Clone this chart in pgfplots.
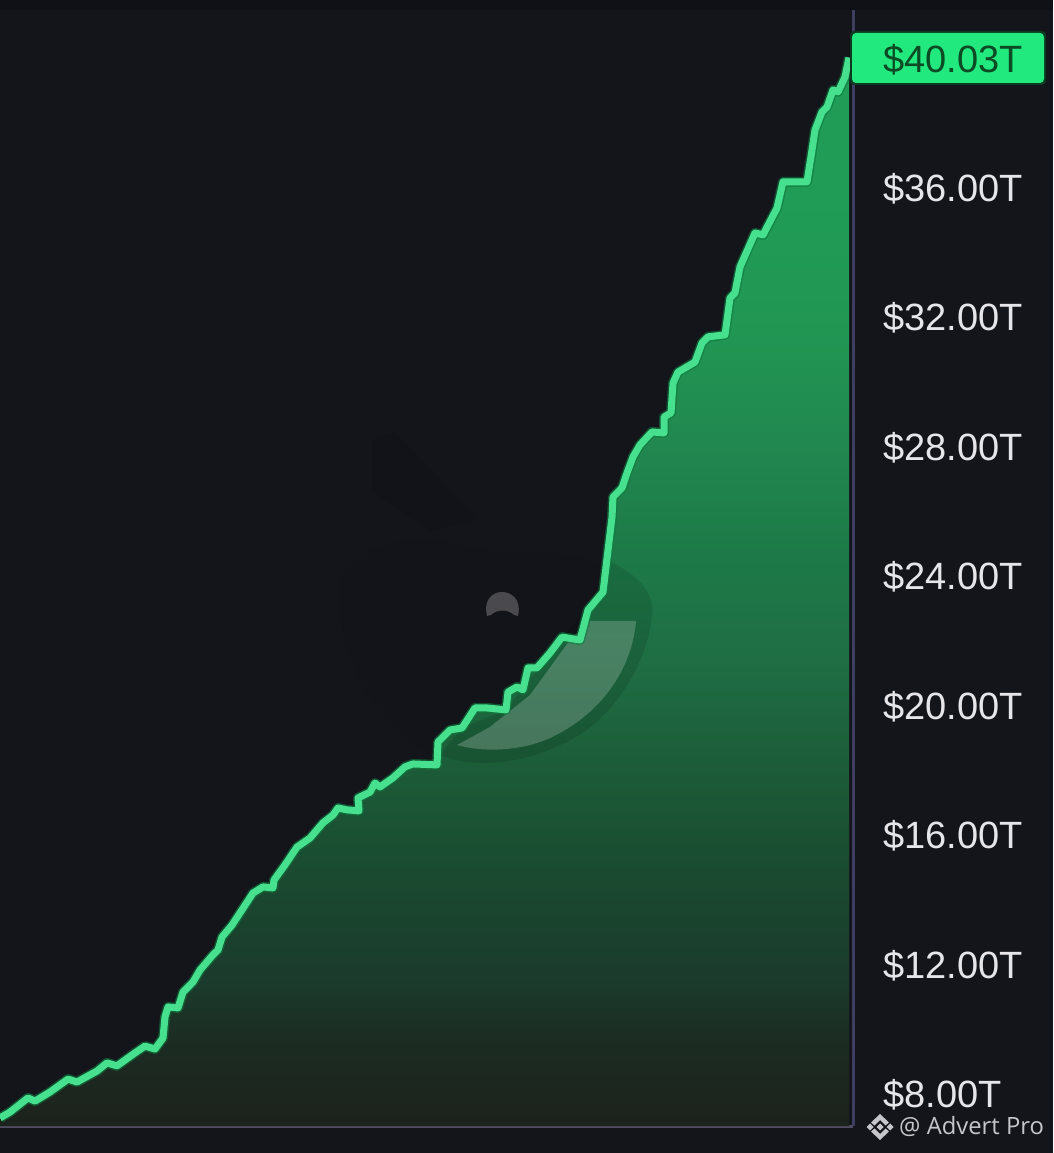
\documentclass[border=0pt]{standalone}
\usepackage{fontspec}
\setmainfont{Liberation Sans}
\newfontfamily\wmfont{Open Sans}
\usepackage{pgfplots}
\usepackage{pgfplotstable}
\pgfplotsset{compat=1.18}

\definecolor{bg}{HTML}{14151B}
\definecolor{topband}{HTML}{101117}
\definecolor{spine}{HTML}{3E3F60}
\definecolor{floorline}{HTML}{4E4B60}
\definecolor{curve}{HTML}{47E08E}
\definecolor{halo}{HTML}{0D7A3E}
\definecolor{tagfill}{HTML}{22E97E}
\definecolor{tagedge}{HTML}{0B3A20}
\definecolor{tagtext}{HTML}{0A4A24}
\definecolor{ticktext}{HTML}{E6E6EA}
\definecolor{markgrey}{HTML}{C6C6CA}
\definecolor{dotgrey}{HTML}{4A4A4E}
\definecolor{fa}{HTML}{1C221C}
\definecolor{fb}{HTML}{1C2C22}
\definecolor{fc}{HTML}{1B3A2C}
\definecolor{fd}{HTML}{1A4A30}
\definecolor{fe}{HTML}{1C5C38}
\definecolor{ff}{HTML}{1F6E44}
\definecolor{fg}{HTML}{1D7A48}
\definecolor{fh}{HTML}{21884F}
\definecolor{fi}{HTML}{219653}
\definecolor{fj}{HTML}{209C56}

% x is the horizontal position (no dates on the chart), y is trillions of dollars
\pgfplotstableread{
x v
0 7.26
10 7.44
28 7.88
35 7.78
50 8.06
68 8.46
77 8.37
97 8.71
107 8.96
117 8.87
135 9.27
145 9.48
155 9.39
163 9.73
165 10.38
168 10.69
178 10.66
183 11.15
193 11.46
200 11.83
213 12.30
218 12.45
222 12.85
232 13.22
242 13.69
253 14.21
263 14.40
273 14.37
274 14.61
285 15.08
297 15.63
310 15.91
323 16.38
333 16.62
338 16.84
347 16.78
359 16.75
358 17.15
370 17.33
375 17.61
380 17.49
393 17.77
405 18.11
413 18.20
437 18.17
438 18.88
450 19.25
462 19.31
475 19.93
487 19.93
506 19.87
508 20.42
517 20.58
523 20.49
528 21.17
537 21.17
550 21.63
562 22.12
580 22.03
588 22.96
603 23.51
612 25.83
613 26.45
622 26.73
627 27.19
633 27.69
640 28.06
652 28.46
664 28.43
664 28.92
671 29.05
673 29.97
678 30.31
695 30.62
702 31.21
708 31.40
725 31.46
730 32.60
735 32.76
740 33.56
755 34.61
763 34.55
777 35.38
783 36.19
807 36.19
812 37.17
815 37.79
822 38.35
827 38.50
833 39.03
838 38.97
845 39.43
849 40.03
}\curvedata

\pgfdeclareverticalshading{areafill}{100bp}{
  color(0bp)=(fa);
  color(25bp)=(fa);
  color(29bp)=(fb);
  color(31.6bp)=(fc);
  color(36.7bp)=(fd);
  color(41.8bp)=(fe);
  color(46.8bp)=(ff);
  color(51.9bp)=(fg);
  color(57bp)=(fh);
  color(62.1bp)=(fi);
  color(68.4bp)=(fj);
  color(100bp)=(fj)}

\pgfplotsset{
  samebox/.style={
    at={(0pt,27pt)},anchor=south west,
    scale only axis,width=853pt,height=1116pt,
    xmin=0,xmax=853,ymin=7.011,ymax=41.5,
  },
}

\begin{document}
\begin{tikzpicture}[pix/.style={x=1pt,y=-1pt,yshift=1153pt}]
\path[use as bounding box,fill=bg] (0,0) rectangle (1053pt,1153pt);
\fill[topband] (0,1143pt) rectangle (1053pt,1153pt);

\begin{scope}[pix]
  % faint watermark on the dark side
  \fill[black,opacity=.05] (372,440) -- (395,432) -- (478,518) -- (430,532) -- (372,492) -- cycle;
  \fill[black,opacity=.04] (340,590) .. controls (345,540) and (420,530) .. (490,552) .. controls (560,548) and (610,560) .. (640,590)
     -- (600,600) -- (440,760) .. controls (380,730) and (335,660) .. (340,590) -- cycle;
\end{scope}

\begin{axis}[
    samebox,
    axis y line=right,axis x line=bottom,
    axis line style={-},
    y axis line style={draw=spine,line width=3pt},
    x axis line style={draw=floorline,line width=3pt},
    xtick=\empty,
    ytick={8,12,16,20,24,28,32,36},
    yticklabels={\$8.00T,\$12.00T,\$16.00T,\$20.00T,\$24.00T,\$28.00T,\$32.00T,\$36.00T},
    major tick length=0pt,
    yticklabel style={anchor=west,inner sep=0pt,xshift=30pt,text=ticktext,
      font=\fontsize{38}{38}\selectfont,text height=27pt,text depth=0pt},
]
  \addplot[draw=none,shade,shading=areafill] table[x=x,y=v] {\curvedata} \closedcycle;
\end{axis}

\begin{scope}[pix]
  % watermark pieces over the filled area
  \fill[black,opacity=.11] (607,560) .. controls (640,575) and (655,595) .. (652,615) .. controls (648,665) and (610,725) .. (560,745)
     .. controls (520,765) and (470,768) .. (440,755) -- (462,728) -- (506,710) -- (562,637) -- (603,592) -- cycle;
  \fill[white,opacity=.20] (457,745) -- (490,727) -- (530,695) -- (570,640) -- (590,621) -- (636,621)
     .. controls (632,670) and (600,715) .. (550,738) .. controls (520,752) and (480,752) .. (457,745) -- cycle;
  \fill[dotgrey] (487,616) .. controls (483,598) and (494,592) .. (502,592) .. controls (510,592) and (522,598) .. (518,616)
     -- (514,615) .. controls (508,609) and (497,609) .. (491,615) -- cycle;
\end{scope}

\begin{axis}[samebox,hide axis]
  \addplot[halo,opacity=.6,line width=10pt,line join=round,forget plot] table[x=x,y=v] {\curvedata};
  \addplot[curve,line width=7pt,line join=round] table[x=x,y=v] {\curvedata};
\end{axis}

\begin{scope}[pix]
  % last value tag
  \fill[tagedge,rounded corners=4pt] (850,31) rectangle (1046,85);
  \fill[tagfill,rounded corners=4pt] (852,33) rectangle (1044,83);
  \node[anchor=west,inner sep=0pt,text=tagtext,font=\fontsize{38}{38}\selectfont,text height=27pt,text depth=0pt] at (883,59) {\$40.03T};
  % logo and credit
  \fill[markgrey] (870,1123.5) -- (873.5,1127) -- (870,1130.5) -- (866.5,1127) -- cycle;
  \fill[markgrey] (890,1123.5) -- (893.5,1127) -- (890,1130.5) -- (886.5,1127) -- cycle;
  \fill[markgrey] (880,1123.5) -- (883.5,1127) -- (880,1130.5) -- (876.5,1127) -- cycle;
  \fill[markgrey] (880,1114) -- (889,1122.5) -- (885.5,1125.5) -- (880,1120) -- (874.5,1125.5) -- (871,1122.5) -- cycle;
  \fill[markgrey] (880,1140) -- (889,1131.5) -- (885.5,1128.5) -- (880,1134) -- (874.5,1128.5) -- (871,1131.5) -- cycle;
  \node[anchor=west,inner sep=0pt,text=markgrey,font=\wmfont\fontsize{23.8}{24}\selectfont] at (899,1127) {@ Advert Pro};
\end{scope}
\end{tikzpicture}
\end{document}
